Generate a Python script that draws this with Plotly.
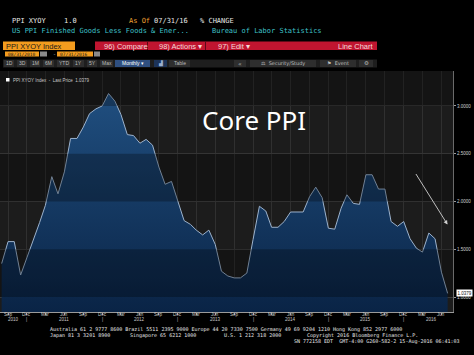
import pandas as pd
import plotly.graph_objects as go

W, H = 474, 355

# ---------------- data ----------------
months = pd.date_range("2010-08-01", periods=72, freq="MS")
ppi_yoy = [
    1.35, 1.58, 1.58, 1.23, 1.41,                                            # 2010 Aug-Dec
    1.59, 1.78, 1.96, 2.26, 2.08, 2.31, 2.66, 2.66, 2.78, 2.92, 2.97, 3.00,  # 2011
    3.13, 3.05, 2.91, 2.70, 2.69, 2.61, 2.65, 2.59, 2.36, 2.18, 2.21, 2.01,  # 2012
    1.80, 1.76, 1.70, 1.65, 1.70, 1.55, 1.27, 1.22, 1.20, 1.20, 1.25, 1.60,  # 2013
    1.95, 1.90, 1.73, 1.73, 1.79, 1.89, 1.89, 1.89, 2.05, 2.15, 2.04, 1.72,  # 2014
    1.71, 1.93, 2.07, 1.98, 1.97, 2.28, 2.28, 2.13, 2.13, 1.79, 1.74, 1.79,  # 2015
    1.61, 1.51, 1.47, 1.67, 1.61, 1.26, 1.0379,                              # 2016 Jan-Jul
]
last_price = 1.0379

tick_dates = pd.date_range("2010-09-01", "2016-06-01", freq="3MS")
tick_month = [d.strftime("%b") for d in tick_dates]
year_labels = ["2010", "2011", "2012", "2013", "2014", "2015", "2016"]
year_pos = ["2010-09-27", "2011-06-01", "2012-06-01", "2013-06-01",
            "2014-06-01", "2015-06-01", "2016-04-14"]
y_ticks = [1.0, 1.5, 2.0, 2.5, 3.0]
y_tick_text = ["%.4f" % v for v in y_ticks]

# ---------------- helpers ----------------
def px(x):
    return x / W

def py(y):
    return 1 - y / H

shapes = []
annotations = []

def rect(x0, y0, x1, y1, color, line=None):
    shapes.append(dict(type="rect", xref="paper", yref="paper",
                       x0=px(x0), x1=px(x1), y0=py(y1), y1=py(y0),
                       fillcolor=color, line=dict(width=0) if line is None else line,
                       layer="above"))

def text(x, y, s, size=7, color="#e6e6e6", family="DejaVu Sans Mono", anchor="left"):
    annotations.append(dict(xref="paper", yref="paper", x=px(x), y=py(y), text=s,
                            showarrow=False, xanchor=anchor, yanchor="middle",
                            font=dict(size=size, color=color, family=family)))

# ---------------- figure ----------------
fig = go.Figure()
fig.add_trace(go.Scatter(
    x=months, y=ppi_yoy, mode="lines",
    line=dict(color="#9cb2cc", width=1),
    fill="tozeroy",
    fillgradient=dict(type="vertical", start=0.85, stop=3.15,
                      colorscale=[[0, "#0a2446"], [1, "#204f80"]]),
    hoverinfo="skip", showlegend=False,
))

y_lo, y_hi = 0.843, 3.366

# alternating background bands
for b0, b1 in [(3.0, y_hi), (2.0, 2.5), (1.0, 1.5)]:
    shapes.append(dict(type="rect", xref="x domain", yref="y", x0=0, x1=1, y0=b0, y1=b1,
                       fillcolor="rgba(0,0,0,0.28)", line=dict(width=0), layer="above"))

# ---------------- header ----------------
text(10, 20.5, "PPI XYOY", 7)
text(62, 20.5, "1.0", 7)
text(127, 20.5, "As Of", 7, "#f0a030")
text(152, 20.5, "07/31/16", 7)
text(198, 20.5, "% CHANGE", 7)
text(10, 31.5, "US PPI Finished Goods Less Foods &amp; Ener...", 7, "#3fc0c8")
text(210, 31.5, "Bureau of Labor Statistics", 7, "#3fc0c8")

rect(3, 41.5, 75, 50, "#f39c1e")
text(4, 46, "PPI XYOY Index", 7.5, "#1a1a1a", "Liberation Sans")
rect(95, 41.5, 377, 50, "#c01530")
for sx in [147, 205]:
    rect(sx, 41.5, sx + 1, 50, "#5a0a18")
text(102, 46, "96) Compare", 7.5, "#f4dada", "Liberation Sans")
text(157, 46, "98) Actions ▾", 7.5, "#f4dada", "Liberation Sans")
text(216, 46, "97) Edit ▾", 7.5, "#f4dada", "Liberation Sans")
text(336, 46, "Line Chart", 7.5, "#f4dada", "Liberation Sans")

rect(5, 51.5, 39, 56.5, "#f39c1e")
text(6, 54, "08/31/2010", 4.5, "#202020")
rect(40, 51.5, 47, 56.5, "#8a8a8a")
text(51, 54, "-", 5, "#cccccc")
rect(57, 51.5, 93, 56.5, "#f39c1e")
text(58, 54, "07/31/2016", 4.5, "#202020")
rect(94, 51.5, 100, 56.5, "#8a8a8a")

rect(3, 59.5, 377, 67.5, "#1e1e1e")
for lab, x0, x1 in [("1D", 4, 14), ("3D", 17, 27), ("1M", 30, 40), ("6M", 43, 54),
                    ("YTD", 57, 70), ("1Y", 73, 84), ("5Y", 87, 97), ("Max", 100, 113)]:
    rect(x0, 60, x1, 67, "#2e2e2e")
    text((x0 + x1) / 2, 63.5, lab, 5, "#bdbdbd", "Liberation Sans", "center")
rect(115, 60, 150, 67, "#2f4f80")
text(132.5, 63.5, "Monthly ▾", 5, "#ffffff", "Liberation Sans", "center")
rect(154, 60, 167, 67, "#1c3358")
text(160.5, 63.5, "▟", 5, "#9ab0d0", "DejaVu Sans", "center")
rect(169, 60, 190, 67, "#2e2e2e")
text(179.5, 63.5, "Table", 5, "#bdbdbd", "Liberation Sans", "center")
rect(234, 60, 246, 67, "#2e2e2e")
text(240, 63.5, "«", 6, "#bdbdbd", "DejaVu Sans", "center")
rect(250, 60, 316, 67, "#2e2e2e")
text(283, 63.5, "⚖  Security/Study", 5, "#bdbdbd", "DejaVu Sans", "center")
rect(320, 60, 356, 67, "#2e2e2e")
text(338, 63.5, "⚑  Event", 5, "#bdbdbd", "DejaVu Sans", "center")
rect(359, 60, 373, 67, "#2e2e2e")
text(366, 63.5, "⚙", 5.5, "#bdbdbd", "DejaVu Sans", "center")

# ---------------- legend / labels inside chart ----------------
rect(6, 78, 9.5, 81.5, "#ffffff")
text(11, 80, "PPI XYOY Index  -  Last Price  1.0379", 4.5, "#c8c8c8", "Liberation Sans")

annotations.append(dict(xref="paper", yref="paper", x=px(254), y=py(120), text="Core PPI",
                        showarrow=False, xanchor="center", yanchor="middle",
                        font=dict(size=26, color="#ffffff", family="Noto Sans")))

# arrow (tail offset in pixels)
annotations.append(dict(xref="paper", yref="paper", x=px(447.5), y=py(224.5),
                        ax=-32.5, ay=-52, axref="pixel", ayref="pixel",
                        text="", showarrow=True, arrowhead=2, arrowsize=0.9,
                        arrowwidth=0.9, arrowcolor="#d0d0d0"))

# last price tag
annotations.append(dict(xref="paper", yref="y", x=px(455.5), y=last_price, text="1.0379",
                        showarrow=False, xanchor="left", yanchor="middle",
                        bgcolor="#ffffff", borderpad=0.5,
                        font=dict(size=4.5, color="#111111", family="Liberation Sans")))

# month labels, year separators and year labels on the x axis
lab_font = dict(size=4.5, color="#c8c8c8", family="Liberation Sans")
for d, m in zip(tick_dates, tick_month):
    annotations.append(dict(xref="x", yref="paper", x=d, y=py(314.5), text=m,
                            showarrow=False, xanchor="center", yanchor="middle",
                            font=lab_font))
    if m == "Dec":
        annotations.append(dict(xref="x", yref="paper", x=d, y=py(319.5), text="|",
                                showarrow=False, xanchor="center", yanchor="middle",
                                font=lab_font))
for lab, d in zip(year_labels, year_pos):
    annotations.append(dict(xref="x", yref="paper", x=d, y=py(319.5), text=lab,
                            showarrow=False, xanchor="center", yanchor="middle",
                            font=lab_font))

# ---------------- footer ----------------
fc = "#e8e8e8"
text(48, 329.5, "Australia 61 2 9777 8600 Brazil 5511 2395 9000 Europe 44 20 7330 7500 "
                "Germany 49 69 9204 1210 Hong Kong 852 2977 6000", 5, fc)
text(48, 335.3, "Japan 81 3 3201 8900", 5, fc)
text(128, 335.3, "Singapore 65 6212 1000", 5, fc)
text(222, 335.3, "U.S. 1 212 318 2000", 5, fc)
text(305, 335.3, "Copyright 2016 Bloomberg Finance L.P.", 5, fc)
text(292, 341.1, "SN 772158 EDT  GMT-4:00 G260-582-2 15-Aug-2016 06:41:03", 5, fc)

fig.update_layout(
    template="none",
    width=W, height=H,
    margin=dict(l=0, r=0, t=0, b=0, pad=0),
    paper_bgcolor="#000000",
    plot_bgcolor="#1c1c1c",
    showlegend=False,
    hovermode=False,
    shapes=shapes,
    annotations=annotations,
    xaxis=dict(
        automargin=False,
        domain=[0, px(453)],
        range=["2010-07-24", "2016-07-27"],
        tickvals=tick_dates, showticklabels=False,
        ticks="outside", ticklen=2, tickcolor="#9a9a9a", tickwidth=1,
        showgrid=True, gridcolor="#303030", gridwidth=1,
        showline=True, linecolor="#9a9a9a", linewidth=1,
        zeroline=False,
    ),
    yaxis=dict(
        automargin=False,
        domain=[py(312), py(71)],
        range=[y_lo, y_hi],
        side="right",
        tickvals=y_ticks, ticktext=y_tick_text,
        tickfont=dict(size=4.5, color="#d0d0d0", family="Liberation Sans"),
        ticks="outside", ticklen=2, tickcolor="#9a9a9a", tickwidth=1,
        showgrid=True, gridcolor="#383838", gridwidth=1,
        showline=True, linecolor="#6a6a6a", linewidth=1,
        zeroline=False,
    ),
)

fig.write_html("out.html",
               config={"displayModeBar": False, "staticPlot": True},
               post_script="document.body.style.margin='0px';"
                           "document.body.style.background='#000';")
